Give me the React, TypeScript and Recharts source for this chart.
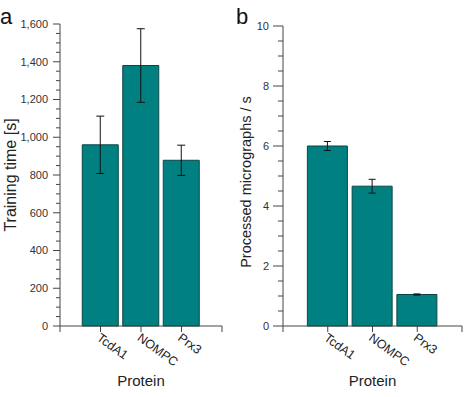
import { BarChart, Bar, XAxis, YAxis, ErrorBar } from 'recharts';

// shared categories (placed at x = 1, 2, 3 on a 0..4 numeric axis)
const proteins = ['TcdA1', 'NOMPC', 'Prx3'];
const proteinPos = [1, 2, 3];

// panel a: training time [s]
const trainingTime = [960, 1380, 878];
const trainingErr = [152, 195, 80];
const trainingTicks = [0, 200, 400, 600, 800, 1000, 1200, 1400, 1600];

// panel b: processed micrographs per second
const throughput = [6.0, 4.66, 1.05];
const throughputErr = [0.15, 0.23, 0.02];
const throughputTicks = [0, 2, 4, 6, 8, 10];

const FONT = '"Liberation Sans", Arial, sans-serif';
const AXIS = '#444';
const TEAL = '#008080';

const dataA = proteins.map((name, i) => ({ name, x: proteinPos[i], value: trainingTime[i], err: trainingErr[i] }));
const dataB = proteins.map((name, i) => ({ name, x: proteinPos[i], value: throughput[i], err: throughputErr[i] }));

// minor ticks: 3 between each labelled tick
const withMinor = (major: number[]) => {
    const out: number[] = [];
    for (let i = 0; i < major.length; i++) {
        out.push(major[i]);
        if (i < major.length - 1) {
            const step = (major[i + 1] - major[i]) / 4;
            for (let k = 1; k < 4; k++) out.push(major[i] + step * k);
        }
    }
    return out;
};

const makeYTick = (major: number[], majorLen: number, minorLen: number, gap: number) => (props: any) => {
    const { x, y, payload } = props;
    const isMajor = major.includes(payload.value);
    return (
        <g>
            <line x1={x} x2={x - (isMajor ? majorLen : minorLen)} y1={y} y2={y} stroke={AXIS} strokeWidth={1} />
            {isMajor && (
                <text x={x - gap} y={y} dy="0.35em" textAnchor="end" fontSize={11} fill="#333" fontFamily={FONT}>
                    {payload.value.toLocaleString('en-US')}
                </text>
            )}
        </g>
    );
};

const XTick = (props: any) => {
    const { x, y, payload } = props;
    const idx = proteinPos.indexOf(payload.value);
    const tx = x - 2;
    const ty = y + 10;
    return (
        <g>
            <line x1={x} x2={x} y1={y} y2={y + 6} stroke={AXIS} strokeWidth={1} />
            {idx >= 0 && (
                <text
                    x={tx}
                    y={ty}
                    dy="0.35em"
                    textAnchor="start"
                    fontSize={12.5}
                    fill="#222"
                    fontFamily={FONT}
                    transform={`rotate(36, ${tx}, ${ty})`}
                >
                    {proteins[idx]}
                </text>
            )}
        </g>
    );
};

const YLabel = (text: string, size: number, dx: number, shift: number) => (props: any) => {
    const { viewBox } = props;
    const cx = viewBox.x + dx;
    const cy = viewBox.y + viewBox.height / 2 + shift;
    return (
        <text x={cx} y={cy} textAnchor="middle" dy="0.35em" fontSize={size} fill="#222" fontFamily={FONT} transform={`rotate(-90, ${cx}, ${cy})`}>
            {text}
        </text>
    );
};

const XLabel = (props: any) => {
    const { viewBox } = props;
    const cx = viewBox.x + viewBox.width / 2;
    return (
        <text x={cx} y={viewBox.y + 60} textAnchor="middle" fontSize={15} fill="#222" fontFamily={FONT}>
            Protein
        </text>
    );
};

interface PanelProps {
    data: { name: string; x: number; value: number; err: number }[];
    width: number;
    yWidth: number;
    top: number;
    max: number;
    ticks: number[];
    majorLen: number;
    minorLen: number;
    gap: number;
    barSize: number;
    capWidth: number;
    label: string;
    labelSize: number;
    labelX: number;
    labelShift: number;
}

function Panel({ data, width, yWidth, top, max, ticks, majorLen, minorLen, gap, barSize, capWidth, label, labelSize, labelX, labelShift }: PanelProps) {
    return (
        <BarChart width={width} height={397} data={data} margin={{ top, right: 12, bottom: 0, left: 0 }}>
            <XAxis
                dataKey="x"
                type="number"
                domain={[0, 4]}
                ticks={[0, 1, 2, 3, 4]}
                height={71}
                tickSize={0}
                tickMargin={0}
                tickLine={false}
                tick={<XTick />}
                stroke={AXIS}
                interval={0}
                label={<XLabel />}
            />
            <XAxis xAxisId="top" orientation="top" type="number" domain={[0, 1]} height={0} tick={false} tickLine={false} stroke={AXIS} />
            <YAxis
                type="number"
                domain={[0, max]}
                ticks={withMinor(ticks)}
                width={yWidth}
                tickSize={0}
                tickMargin={0}
                tickLine={false}
                tick={makeYTick(ticks, majorLen, minorLen, gap)}
                stroke={AXIS}
                interval={0}
                label={YLabel(label, labelSize, labelX, labelShift)}
            />
            <YAxis yAxisId="right" orientation="right" domain={[0, 1]} width={0} tick={false} tickLine={false} stroke={AXIS} />
            <Bar dataKey="value" fill={TEAL} stroke="#0b4545" strokeWidth={1} barSize={barSize} isAnimationActive={false}>
                <ErrorBar dataKey="err" width={capWidth} stroke="#111" strokeWidth={1} isAnimationActive={false} />
            </Bar>
        </BarChart>
    );
}

export default function App() {
    return (
        <div style={{ position: 'absolute', left: 0, top: 0, width: 474, height: 397, background: '#fff', fontFamily: FONT }}>
            <div style={{ position: 'absolute', left: 0, top: 0 }}>
                <Panel
                    data={dataA}
                    width={234}
                    yWidth={60}
                    top={24}
                    max={1600}
                    ticks={trainingTicks}
                    majorLen={7}
                    minorLen={4}
                    gap={12}
                    barSize={36}
                    capWidth={4}
                    label="Training time [s]"
                    labelSize={16}
                    labelX={10}
                    labelShift={0}
                />
            </div>
            <div style={{ position: 'absolute', left: 234, top: 0 }}>
                <Panel
                    data={dataB}
                    width={240}
                    yWidth={49}
                    top={26}
                    max={10}
                    ticks={throughputTicks}
                    majorLen={10}
                    minorLen={5}
                    gap={14}
                    barSize={40}
                    capWidth={3.5}
                    label="Processed micrographs / s"
                    labelSize={14.5}
                    labelX={12}
                    labelShift={6}
                />
            </div>
            <div style={{ position: 'absolute', left: 0, top: 5, fontSize: 22, lineHeight: '24px', color: '#111' }}>a</div>
            <div style={{ position: 'absolute', left: 236, top: 5, fontSize: 22, lineHeight: '24px', color: '#111' }}>b</div>
        </div>
    );
}
